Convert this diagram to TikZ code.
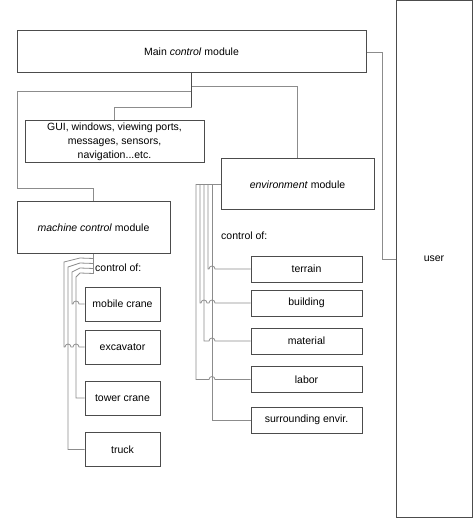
\documentclass[tikz,border=0pt]{standalone}
\usepackage{fontspec}
\setmainfont{Liberation Sans}
\usepackage{tikz}
\definecolor{mdark}{rgb}{0.3, 0.3, 0.3}
\definecolor{mgray}{rgb}{0.55, 0.55, 0.55}
\tikzset{box/.style = {draw=mdark, line width=1pt, inner sep=0, align=center,
                       font=\fontsize{10.5}{14}\selectfont}}
\tikzset{link/.style = {draw=mgray, line width=0.8pt}}
\tikzset{lbl/.style = {inner sep=0, anchor=west, font=\fontsize{10.5}{12}\selectfont}}
% small bump where a line jumps over another one
\newcommand{\hop}[2]{-- (#1-3, #2) arc [start angle=180, end angle=360, radius=3]}

\begin{document}
\begin{tikzpicture}[x=1pt, y=-1pt]
    \useasboundingbox (0, 0) rectangle (474, 518);

    \node (main) at (191.5, 52) [box, minimum width=349, minimum height=42] {Main \textit{control} module};
    \node (gui) at (114.5, 142) [box, minimum width=179, minimum height=42]
      {GUI, windows, viewing ports,\\ messages, sensors,\\ navigation...etc.};
    \node (mach) at (93.5, 227.5) [box, minimum width=153, minimum height=51] {\textit{machine control} module};
    \node (env) at (297.5, 184.5) [box, minimum width=153, minimum height=51] {\textit{environment} module};
    \node (user) at (434, 259) [box, minimum width=76, minimum height=516] {user};

    % machines
    \node (mobile) at (122.5, 304) [box, minimum width=75, minimum height=34] {mobile crane};
    \node (excav) at (122.5, 347) [box, minimum width=75, minimum height=34] {excavator};
    \node (tower) at (122.5, 398) [box, minimum width=75, minimum height=34] {tower crane};
    \node (truck) at (122.5, 449.5) [box, minimum width=75, minimum height=34] {truck};
    \node (mctl) at (95, 268) [lbl] {control of:};

    % environment parts
    \node (terrain) at (306.5, 269) [box, minimum width=111, minimum height=26] {terrain};
    \node (build) at (306.5, 303) [box, minimum width=111, minimum height=26] {building};
    \node (mater) at (306.5, 341) [box, minimum width=111, minimum height=26] {material};
    \node (labor) at (306.5, 379.5) [box, minimum width=111, minimum height=26] {labor};
    \node (surr) at (306.5, 420) [box, minimum width=111, minimum height=26] {surrounding envir.};
    \node (ectl) at (221, 236) [lbl] {control of:};

    % main module links
    \draw [link] (main.east) -- ++(16, 0) |- (user.west);
    \draw [link] (main.south) -- ++(0, 13) -| (env.north);
    \draw [link] (main.south) -- ++(0, 18) -| (17, 188) -| (mach.north);
    \draw [link] (main.south) -- ++(0, 34) -| (gui.north);
    \draw [draw=mdark, line width=0.9pt] (main.south) -- ++(0, 34);

    % machine links
    \draw [link] (mach.south) -- ++(0, 20);
    \draw [link] (mach.south) ++(0, 5) -- (80, 258) -- (64, 262) -- (64, 347) \hop{68}{347} \hop{76}{347} -- (excav.west);
    \draw [link] (mach.south) ++(0, 10) -- (80, 263) -- (68, 267) -- (68, 449.5) -- (truck.west);
    \draw [link] (mach.south) ++(0, 15) -- (80, 268) -- (72, 272) -- (72, 304) \hop{76}{304} -- (mobile.west);
    \draw [link] (mach.south) ++(0, 20) -- (80, 273) -- (76, 277) -- (76, 398) -- (tower.west);

    % environment links
    \draw [link] (env.west) -- (196, 184.5) -- (196, 379.5) \hop{212}{379.5} -- (labor.west);
    \draw [link] (env.west) -- (200, 184.5) -- (200, 303) \hop{204}{303} \hop{212}{303} -- (build.west);
    \draw [link] (env.west) -- (204, 184.5) -- (204, 341) \hop{212}{341} -- (mater.west);
    \draw [link] (env.west) -- (208, 184.5) -- (208, 269) \hop{212}{269} -- (terrain.west);
    \draw [link] (env.west) -- (212, 184.5) -- (212, 420) -- (surr.west);
  \end{tikzpicture}
\end{document}
